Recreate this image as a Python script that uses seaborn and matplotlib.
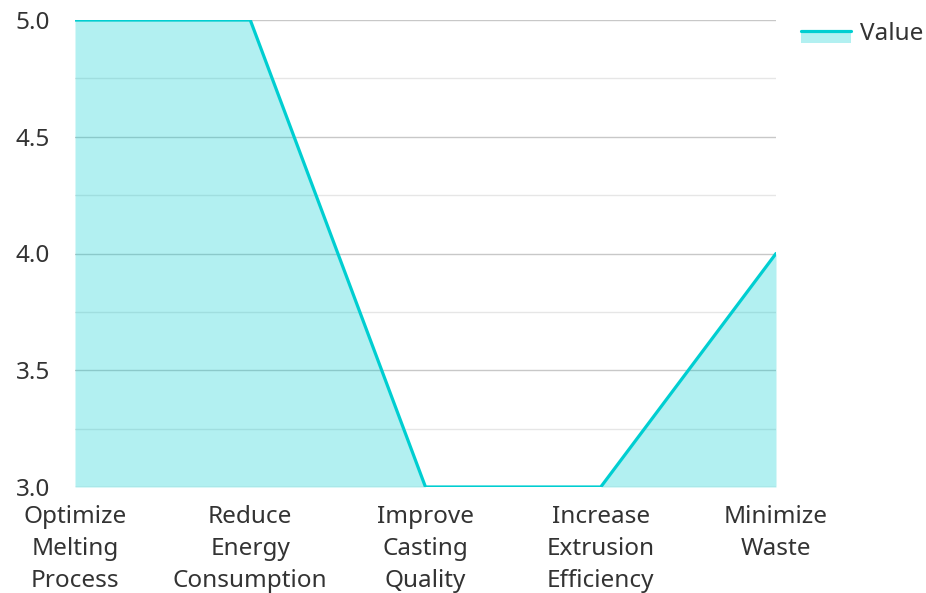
import matplotlib
matplotlib.use("Agg")
import matplotlib.pyplot as plt
import seaborn as sns
import pandas as pd
from matplotlib.legend_handler import HandlerBase
from matplotlib.patches import Rectangle
from matplotlib.lines import Line2D
from matplotlib.ticker import MultipleLocator

categories = ["Optimize\nMelting\nProcess", "Reduce\nEnergy\nConsumption",
              "Improve\nCasting\nQuality", "Increase\nExtrusion\nEfficiency",
              "Minimize\nWaste"]
values = [5, 5, 3, 3, 4]
series_name = "Value"

LINE = "#00CED1"
FONT = "Noto Sans"
TEXT = "#333333"
FS = 17.5

sns.set_theme(style="white")
plt.rcParams["font.family"] = [FONT, "DejaVu Sans"]

df = pd.DataFrame({"x": range(len(categories)), "y": values})

fig = plt.figure(figsize=(9.26, 5.93), dpi=100)
ax = fig.add_axes([75 / 926, 1 - 487 / 593, (776 - 75) / 926, (487 - 20) / 593])

ax.set_xlim(0, len(categories) - 1)
ax.set_ylim(3, 5)

# grid: major every 0.5, lighter minor every 0.25
ax.yaxis.set_major_locator(MultipleLocator(0.5))
ax.yaxis.set_minor_locator(MultipleLocator(0.25))
ax.grid(axis="y", which="major", color="#c8c8c8", linewidth=1.0, zorder=0)
ax.grid(axis="y", which="minor", color="#e6e6e6", linewidth=1.0, zorder=0)
ax.grid(axis="x", visible=False)
ax.set_axisbelow(True)

ax.fill_between(df["x"], df["y"], 3, color=LINE, alpha=0.3, linewidth=0, zorder=2)
sns.lineplot(data=df, x="x", y="y", ax=ax, color=LINE, linewidth=2.3, zorder=3,
             legend=False)

ax.set_xticks(range(len(categories)))
ax.set_xticklabels(categories, fontsize=FS, color=TEXT, linespacing=1.45,
                   va="top")
ax.set_yticks([3.0, 3.5, 4.0, 4.5, 5.0])
ax.set_yticklabels([f"{v:.1f}" for v in [3.0, 3.5, 4.0, 4.5, 5.0]],
                   fontsize=FS, color=TEXT)
ax.tick_params(axis="x", length=0, pad=13)
ax.tick_params(axis="y", which="both", length=0, pad=18)
ax.set_xlabel("")
ax.set_ylabel("")
for s in ax.spines.values():
    s.set_visible(False)


class AreaHandler(HandlerBase):
    def create_artists(self, legend, orig_handle, xdescent, ydescent,
                       width, height, fontsize, trans):
        cy = -ydescent + height / 2
        rect = Rectangle((-xdescent, cy - 8.5), width, 9.5,
                         facecolor=LINE, alpha=0.3, edgecolor="none",
                         transform=trans)
        line = Line2D([-xdescent, -xdescent + width], [cy + 0.3, cy + 0.3],
                      color=LINE, linewidth=2.3, transform=trans)
        return [rect, line]


handle = Line2D([], [], color=LINE)
fig.legend([handle], [series_name], handler_map={Line2D: AreaHandler()},
           loc="upper left", bbox_to_anchor=(779 / 926, 1.0),
           frameon=False, fontsize=FS, handlelength=2.05, handletextpad=0.37,
           labelcolor=TEXT)

fig.savefig("out.png", dpi=100)
